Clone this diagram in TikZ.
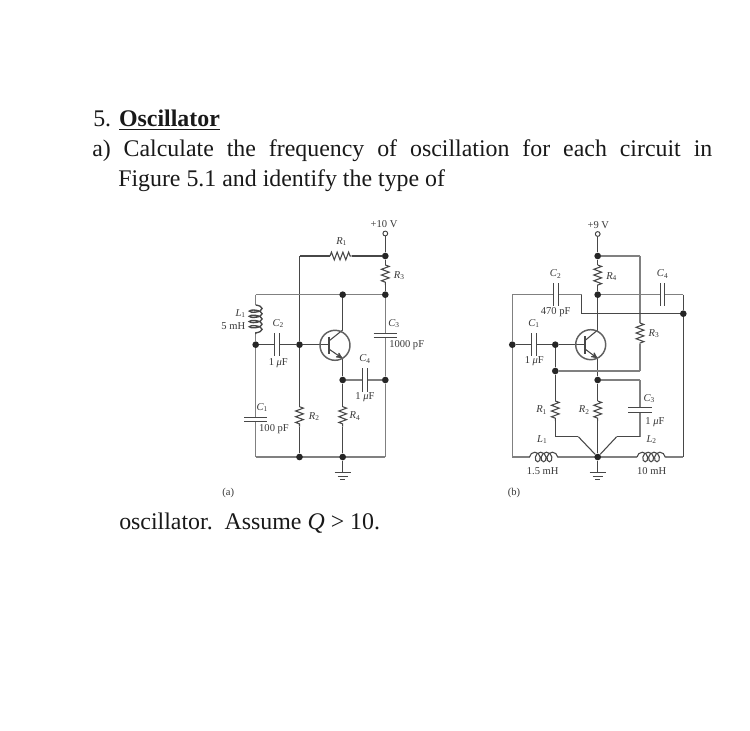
\documentclass[tikz,border=0pt]{standalone}
\usepackage{fontspec}
\setmainfont{Liberation Serif}
\usetikzlibrary{arrows, decorations.pathmorphing, positioning}
\pgfdeclarelayer{back}
\pgfsetlayers{back,main}
\newcommand\lb[2]{\textit{#1}\textsubscript{#2}}
\tikzset{
	wire/.style={draw=black!72, line width=0.8pt},
	pale/.style={draw=black!50, line width=1pt},
	res/.style={wire, decorate, decoration={zigzag, amplitude=2.9pt, segment length=4.3pt}},
	ind/.style={wire, decorate, decoration={coil, aspect=0.8, amplitude=3.6pt, segment length=4.4pt}},
	indv/.style={wire, line width=1pt, decorate, decoration={coil, aspect=0.35, amplitude=4.8pt, segment length=3.9pt}},
	dot/.style={circle, fill=black!85, inner sep=0pt, minimum size=5pt},
	term/.style={circle, draw=black!75, fill=white, line width=0.7pt, inner sep=0pt, minimum size=3.6pt},
	bjt/.style={circle, draw=black!62, line width=1.1pt, inner sep=0pt, minimum size=22.5pt},
	caph/.style={inner sep=0pt, outer sep=0pt, minimum width=17.5pt, minimum height=#1,
		append after command={(\tikzlastnode.north west) edge[wire] (\tikzlastnode.north east)
		(\tikzlastnode.south west) edge[wire] (\tikzlastnode.south east)}},
	capv/.style={inner sep=0pt, outer sep=0pt, minimum height=17.5pt, minimum width=#1,
		append after command={(\tikzlastnode.north west) edge[wire] (\tikzlastnode.south west)
		(\tikzlastnode.north east) edge[wire] (\tikzlastnode.south east)}},
	lab/.style={inner sep=0pt, text=black!78, font=\fontsize{7.9pt}{9pt}\selectfont},
	body/.style={inner sep=0pt, anchor=base west, text=black!90, font=\fontsize{17.9pt}{21pt}\selectfont}
}
\begin{document}
\begin{tikzpicture}[x=0.75pt, y=-0.75pt, >=stealth']
		\useasboundingbox (0,0) rectangle (750,731);
		\begin{pgfonlayer}{back}
		\fill[white] (0,0) rectangle (750,731);
		\end{pgfonlayer}
		% text
		\node[body]	(head)	at (93,127)	{5. \underline{\textbf{Oscillator}}};
		\node[body]	(line1)	at (92,157)	{\makebox[465pt][s]{a) Calculate the frequency of oscillation for each circuit in}};
		\node[body]	(line2)	at (118,187)	{Figure 5.1 and identify the type of};
		\node[body]	(line3)	at (119,529)	{oscillator.\hspace{3pt} Assume \textit{Q} > 10.};

		% circuit a
		\node[term]	(vcca)	at (385.3,233.5)	{};
		\node[dot]	(topa)	at (385.3,256)	{};
		\node[dot]	(cola)	at (385.3,294.7)	{};
		\node[dot]	(cnta)	at (342.7,294.7)	{};
		\node[dot]	(lfta)	at (255.7,344.7)	{};
		\node[dot]	(basa)	at (299.5,344.7)	{};
		\node[dot]	(emia)	at (342.7,380)	{};
		\node[dot]	(rgta)	at (385.3,380)	{};
		\node[dot]	(bota)	at (299.5,457)	{};
		\node[dot]	(gnda)	at (342.7,457)	{};
		\node[bjt]	(qa)	at (335,345.3)	{};
		\node[caph=3.2pt]	(c1a)	at (255.7,419.5)	{};
		\node[capv=3.2pt]	(c2a)	at (277,344.7)	{};
		\node[caph=3.2pt]	(c3a)	at (385.3,335.3)	{};
		\node[capv=3.2pt]	(c4a)	at (365,380)	{};
		\coordinate	(cnra)	at (299.5,256);
		\coordinate	(r1la)	at (330,256);
		\coordinate	(r1ra)	at (351.7,256);
		\coordinate	(r3ta)	at (385.3,265);
		\coordinate	(r3ba)	at (385.3,285);
		\coordinate	(tlta)	at (255.7,294.7);
		\coordinate	(l1ta)	at (255.7,305);
		\coordinate	(l1ba)	at (255.7,334);
		\coordinate	(r2ta)	at (299.5,406.7);
		\coordinate	(r2ba)	at (299.5,426.7);
		\coordinate	(r4ta)	at (342.7,406.7);
		\coordinate	(r4ba)	at (342.7,426.7);
		\coordinate	(blta)	at (255.7,457);
		\coordinate	(brta)	at (385.3,457);
		\coordinate	(bara)	at (329.3,344.7);
		\coordinate	(bata)	at (329.3,336.5);
		\coordinate	(bbta)	at (329.3,354);
		\coordinate	(ctpa)	at (342.7,330);
		\coordinate	(ebta)	at (342.7,358.5);
		\coordinate	(gpta)	at (342.7,472.7);
		\begin{pgfonlayer}{back}
		\path
		(vcca)	edge[wire]	(topa)
		(topa)	edge[wire]	(r1ra)
		(r1la)	edge[wire]	(cnra)
		(cnra)	edge[wire]	(basa)
		(basa)	edge[wire]	(r2ta)
		(r2ba)	edge[wire]	(bota)
		(topa)	edge[wire]	(r3ta)
		(r3ba)	edge[wire]	(cola)
		(tlta)	edge[pale]	(cola)
		(tlta)	edge[pale]	(l1ta)
		(l1ba)	edge[pale]	(lfta)
		(lfta)	edge[pale]	(c1a)
		(c1a)	edge[pale]	(blta)
		(blta)	edge[pale]	(brta)
		(brta)	edge[pale]	(rgta)
		(rgta)	edge[pale]	(c3a)
		(c3a)	edge[pale]	(cola)
		(lfta)	edge[wire]	(c2a)
		(c2a)	edge[wire]	(basa)
		(basa)	edge[wire]	(bara)
		(cnta)	edge[wire]	(ctpa)
		(ctpa)	edge[wire]	(329.3,340.7)
		(329.3,349.3)	edge[wire, ->]	(ebta)
		(ebta)	edge[wire]	(emia)
		(emia)	edge[pale]	(c4a)
		(c4a)	edge[pale]	(rgta)
		(emia)	edge[wire]	(r4ta)
		(r4ba)	edge[wire]	(gnda)
		(gnda)	edge[wire]	(gpta);
		\end{pgfonlayer}
		\draw[res]	(r1la) -- (r1ra);
		\draw[res]	(r3ta) -- (r3ba);
		\draw[res]	(r2ta) -- (r2ba);
		\draw[res]	(r4ta) -- (r4ba);
		\draw[indv]	(l1ta) -- (l1ba);
		\draw[wire, line width=1.4pt]	(bata) -- (bbta);
		\draw[wire]	(gpta) +(-8,0) -- +(8,0);
		\draw[wire]	(gpta) +(-5,3.4) -- +(5,3.4);
		\draw[wire]	(gpta) +(-2.5,6.8) -- +(2.5,6.8);

		\node[lab]	(va)	at (384,224)	{+10 V};
		\node[lab]	(ar1)	at (341.7,241.7)	{\lb{R}{1}};
		\node[lab]	(ar3)	at (399.3,275.7)	{\lb{R}{3}};
		\node[lab]	(al1)	at (240.7,313.3)	{\lb{L}{1}};
		\node[lab]	(al1v)	at (233.3,325.7)	{5 mH};
		\node[lab]	(ac2)	at (278.3,323.3)	{\lb{C}{2}};
		\node[lab]	(ac2v)	at (278.3,362.7)	{1 \textit{μ}F};
		\node[lab]	(ac3)	at (394,323.3)	{\lb{C}{3}};
		\node[lab]	(ac3v)	at (406.7,345)	{1000 pF};
		\node[lab]	(ac4)	at (365,359)	{\lb{C}{4}};
		\node[lab]	(ac4v)	at (365,396.7)	{1 \textit{μ}F};
		\node[lab]	(ac1)	at (262.3,407.3)	{\lb{C}{1}};
		\node[lab]	(ac1v)	at (274,429)	{100 pF};
		\node[lab]	(ar2)	at (314.3,416.7)	{\lb{R}{2}};
		\node[lab]	(ar4)	at (355,416)	{\lb{R}{4}};
		\node[lab]	(capa)	at (228.3,493.3)	{(a)};

		% circuit b
		\node[term]	(vccb)	at (597.7,234)	{};
		\node[dot]	(topb)	at (597.7,256)	{};
		\node[dot]	(colb)	at (597.7,294.7)	{};
		\node[dot]	(rgtb)	at (683.3,313.7)	{};
		\node[dot]	(lftb)	at (512.3,344.7)	{};
		\node[dot]	(basb)	at (555.3,344.7)	{};
		\node[dot]	(lowb)	at (555.3,371)	{};
		\node[dot]	(emib)	at (597.7,380)	{};
		\node[dot]	(gndb)	at (597.7,457)	{};
		\node[bjt]	(qb)	at (590.7,344.7)	{};
		\node[capv=3.2pt]	(c1b)	at (534,344.7)	{};
		\node[capv=3.2pt]	(c2b)	at (556,294.7)	{};
		\node[caph=3.2pt]	(c3b)	at (640,410)	{};
		\node[capv=3.2pt]	(c4b)	at (662.3,294.7)	{};
		\coordinate	(r4tb)	at (597.7,265);
		\coordinate	(r4bb)	at (597.7,286);
		\coordinate	(trtb)	at (640,256);
		\coordinate	(r3tb)	at (640,323);
		\coordinate	(r3bb)	at (640,343.5);
		\coordinate	(lrtb)	at (640,371);
		\coordinate	(tltb)	at (512.3,294.7);
		\coordinate	(stpb)	at (581.7,294.7);
		\coordinate	(stdb)	at (581.7,313.7);
		\coordinate	(trcb)	at (683.3,294.7);
		\coordinate	(blfb)	at (512.3,457);
		\coordinate	(brgb)	at (683.3,457);
		\coordinate	(l1lb)	at (529.5,457);
		\coordinate	(l1rb)	at (558,457);
		\coordinate	(l2lb)	at (637,457);
		\coordinate	(l2rb)	at (666,457);
		\coordinate	(r1tb)	at (555.3,401);
		\coordinate	(r1bb)	at (555.3,421);
		\coordinate	(r2tb)	at (597.7,401);
		\coordinate	(r2bb)	at (597.7,421);
		\coordinate	(k1b)	at (555.3,436.7);
		\coordinate	(k2b)	at (578.3,436.7);
		\coordinate	(k3b)	at (616.7,436.7);
		\coordinate	(k4b)	at (640,436.7);
		\coordinate	(ertb)	at (640,380);
		\coordinate	(barb)	at (585,344.7);
		\coordinate	(batb)	at (585,336);
		\coordinate	(babb)	at (585,353.5);
		\coordinate	(ctpb)	at (597.7,330);
		\coordinate	(ebtb)	at (597.7,358.5);
		\coordinate	(gptb)	at (597.7,472.7);
		\begin{pgfonlayer}{back}
		\path
		(vccb)	edge[wire]	(topb)
		(topb)	edge[wire]	(r4tb)
		(r4bb)	edge[wire]	(colb)
		(colb)	edge[wire]	(ctpb)
		(ctpb)	edge[wire]	(585,340.5)
		(585,349)	edge[wire, ->]	(ebtb)
		(ebtb)	edge[wire]	(emib)
		(emib)	edge[wire]	(r2tb)
		(r2bb)	edge[wire]	(gndb)
		(gndb)	edge[wire]	(gptb)
		(topb)	edge[pale]	(trtb)
		(trtb)	edge[pale]	(r3tb)
		(r3bb)	edge[pale]	(lrtb)
		(lrtb)	edge[pale]	(lowb)
		(tltb)	edge[pale]	(c2b)
		(c2b)	edge[pale]	(stpb)
		(stpb)	edge[wire]	(stdb)
		(stdb)	edge[wire]	(rgtb)
		(colb)	edge[pale]	(c4b)
		(c4b)	edge[pale]	(trcb)
		(trcb)	edge[wire]	(rgtb)
		(rgtb)	edge[wire]	(brgb)
		(tltb)	edge[pale]	(lftb)
		(lftb)	edge[pale]	(blfb)
		(lftb)	edge[wire]	(c1b)
		(c1b)	edge[wire]	(basb)
		(basb)	edge[wire]	(barb)
		(basb)	edge[wire]	(lowb)
		(lowb)	edge[wire]	(r1tb)
		(r1bb)	edge[wire]	(k1b)
		(k1b)	edge[wire]	(k2b)
		(k2b)	edge[wire]	(gndb)
		(emib)	edge[pale]	(ertb)
		(ertb)	edge[pale]	(c3b)
		(c3b)	edge[pale]	(k4b)
		(k4b)	edge[wire]	(k3b)
		(k3b)	edge[wire]	(gndb)
		(blfb)	edge[pale]	(l1lb)
		(l1rb)	edge[pale]	(l2lb)
		(l2rb)	edge[pale]	(brgb);
		\end{pgfonlayer}
		\draw[res]	(r4tb) -- (r4bb);
		\draw[res]	(r3tb) -- (r3bb);
		\draw[res]	(r1tb) -- (r1bb);
		\draw[res]	(r2tb) -- (r2bb);
		\draw[ind]	(l1lb) -- (l1rb);
		\draw[ind]	(l2lb) -- (l2rb);
		\draw[wire, line width=1.4pt]	(batb) -- (babb);
		\draw[wire]	(gptb) +(-8,0) -- +(8,0);
		\draw[wire]	(gptb) +(-5,3.4) -- +(5,3.4);
		\draw[wire]	(gptb) +(-2.5,6.8) -- +(2.5,6.8);

		\node[lab]	(vb)	at (598.3,225)	{+9 V};
		\node[lab]	(bc2)	at (555.7,274)	{\lb{C}{2}};
		\node[lab]	(bc2v)	at (555.7,311.7)	{470 pF};
		\node[lab]	(br4)	at (611.7,276.7)	{\lb{R}{4}};
		\node[lab]	(bc4)	at (662.7,274)	{\lb{C}{4}};
		\node[lab]	(bc1)	at (534,323.3)	{\lb{C}{1}};
		\node[lab]	(bc1v)	at (534.3,360.7)	{1 \textit{μ}F};
		\node[lab]	(br3)	at (654,333.3)	{\lb{R}{3}};
		\node[lab]	(bc3)	at (649.3,398.3)	{\lb{C}{3}};
		\node[lab]	(bc3v)	at (655,421.7)	{1 \textit{μ}F};
		\node[lab]	(br1)	at (541.7,410)	{\lb{R}{1}};
		\node[lab]	(br2)	at (584.3,410)	{\lb{R}{2}};
		\node[lab]	(bl1)	at (542.3,439.3)	{\lb{L}{1}};
		\node[lab]	(bl1v)	at (542.7,470.7)	{1.5 mH};
		\node[lab]	(bl2)	at (651.7,439.3)	{\lb{L}{2}};
		\node[lab]	(bl2v)	at (651.7,470.7)	{10 mH};
		\node[lab]	(capb)	at (514,493.3)	{(b)};
\end{tikzpicture}
\end{document}
